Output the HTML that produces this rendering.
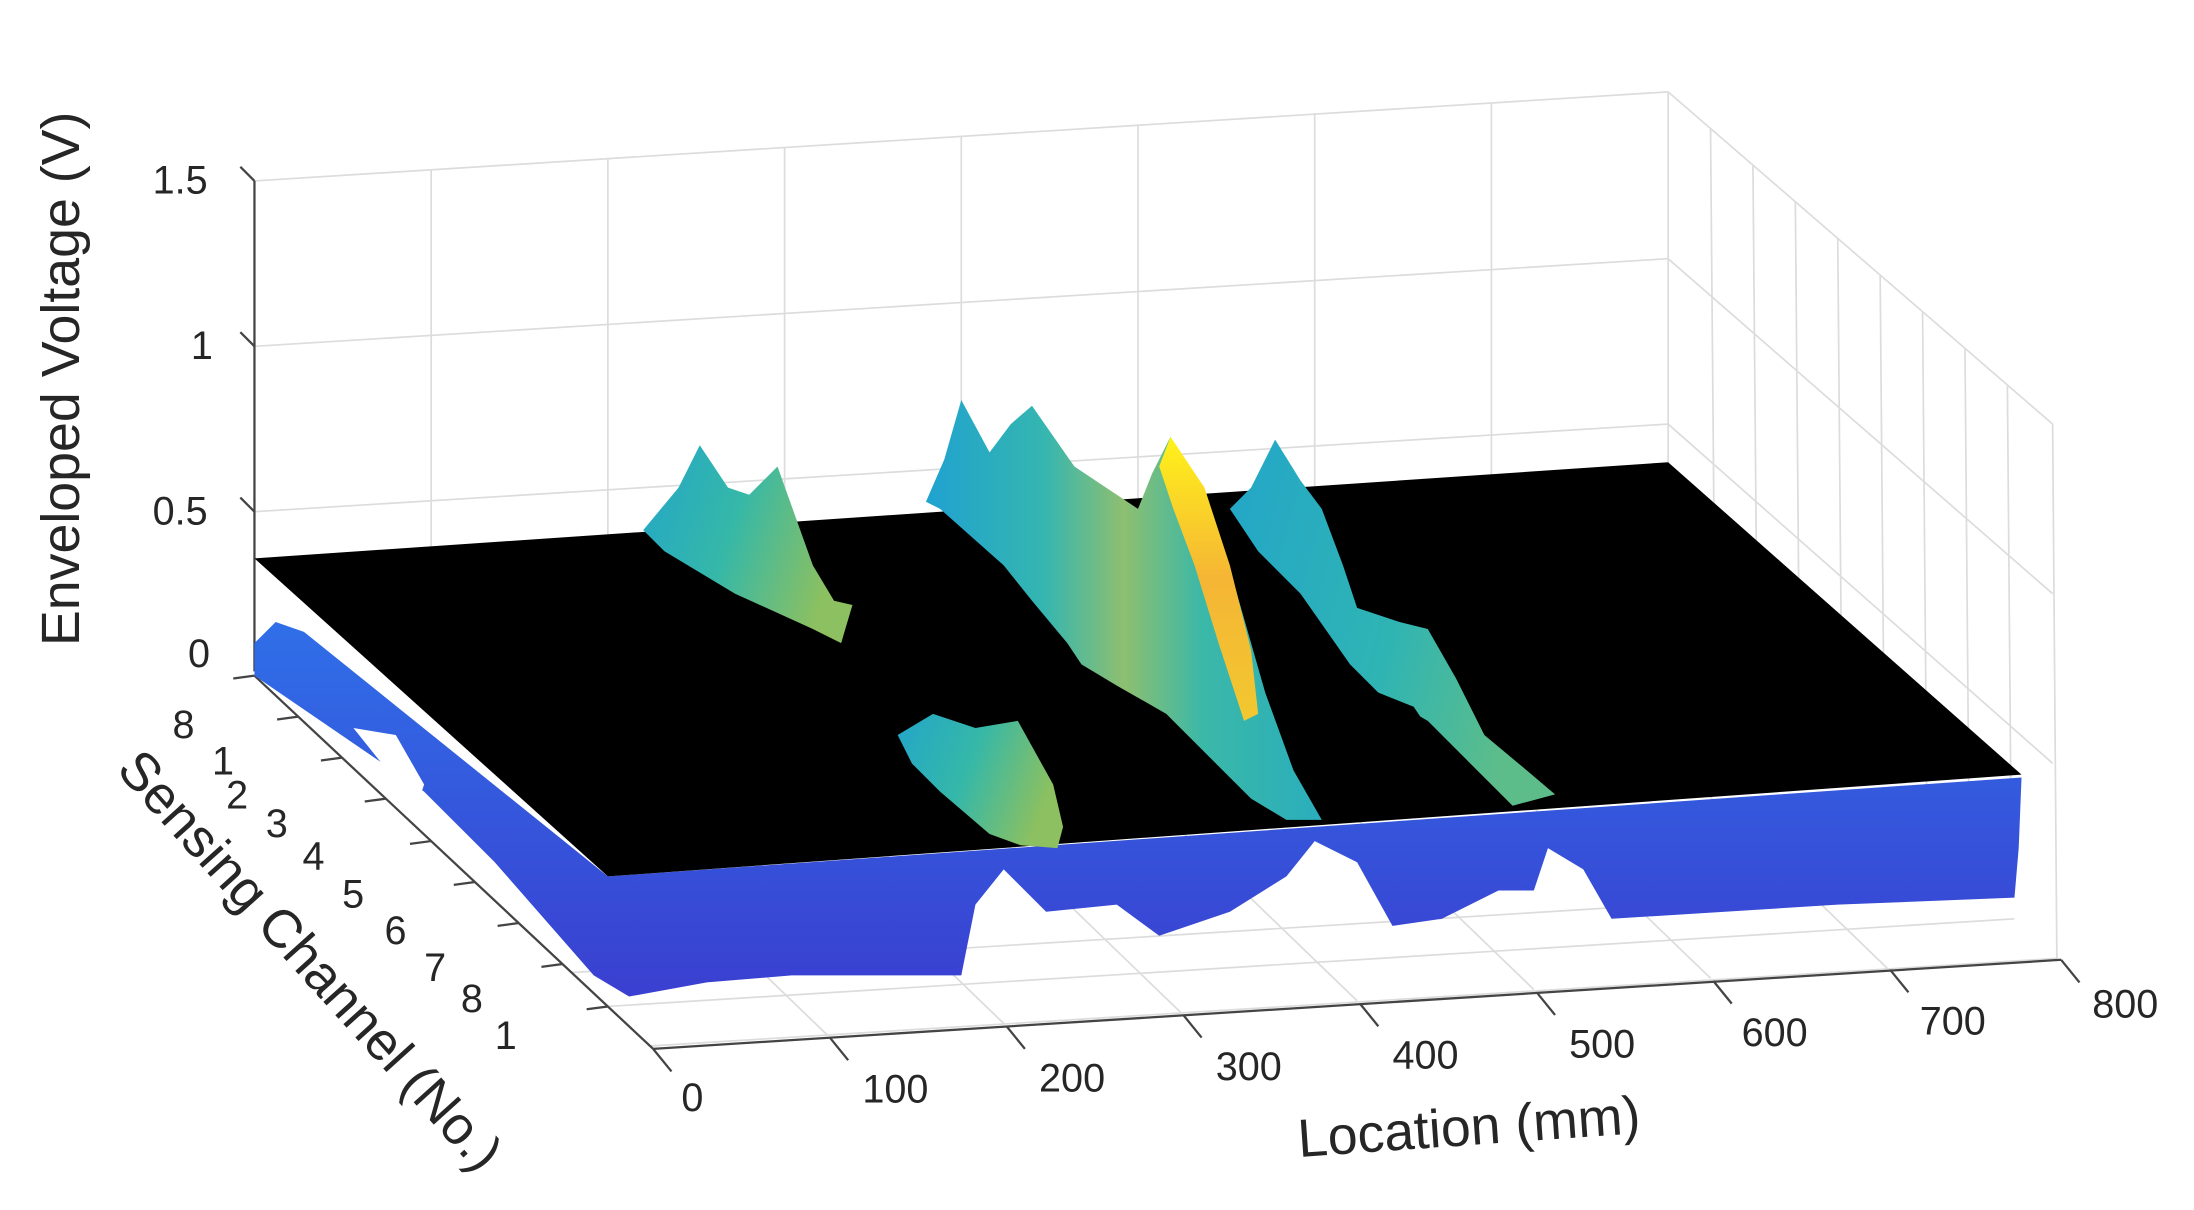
<!DOCTYPE html>
<html><head><meta charset="utf-8"><style>
html,body{margin:0;padding:0;background:#fff;width:2194px;height:1210px;overflow:hidden}
svg{display:block}
text{font-family:"Liberation Sans",Arial,sans-serif;fill:#262626}
</style></head><body>
<svg width="2194" height="1210" viewBox="0 0 1552 856" preserveAspectRatio="none" xmlns="http://www.w3.org/2000/svg">
<defs>
<linearGradient id="g1" x1="0" y1="0" x2="1" y2="0.3">
<stop offset="0" stop-color="#23a6c8"/><stop offset="0.5" stop-color="#35b8a8"/><stop offset="1" stop-color="#8cc060"/></linearGradient>
<linearGradient id="g4" x1="0" y1="0" x2="1" y2="0.3">
<stop offset="0" stop-color="#23a6c8"/><stop offset="0.6" stop-color="#2fb4b4"/><stop offset="1" stop-color="#5cbd8a"/></linearGradient>
<linearGradient id="g3" x1="0" y1="0" x2="1" y2="0">
<stop offset="0" stop-color="#1fa2d0"/><stop offset="0.3" stop-color="#35b6b0"/><stop offset="0.5" stop-color="#8ebf70"/><stop offset="0.7" stop-color="#3ab8a8"/><stop offset="1" stop-color="#2aaebc"/></linearGradient>
<linearGradient id="gy" x1="0" y1="0" x2="0" y2="1">
<stop offset="0" stop-color="#fff21a"/><stop offset="0.5" stop-color="#f5b535"/><stop offset="1" stop-color="#f2c830"/></linearGradient>
<linearGradient id="gb" x1="0" y1="0" x2="0" y2="1">
<stop offset="0" stop-color="#2f6fe8"/><stop offset="1" stop-color="#3a3fd0"/></linearGradient>
</defs>
<g stroke="#dcdcdc" stroke-width="1.2" fill="none">
<line x1="180" y1="128" x2="1180" y2="65"/>
<line x1="180" y1="245" x2="1180" y2="183"/>
<line x1="180" y1="362" x2="1180" y2="300"/>
<line x1="305" y1="120" x2="305" y2="462"/>
<line x1="430" y1="112" x2="430" y2="454"/>
<line x1="555" y1="104" x2="555" y2="446"/>
<line x1="680" y1="96" x2="680" y2="438"/>
<line x1="805" y1="88" x2="805" y2="430"/>
<line x1="930" y1="80" x2="930" y2="422"/>
<line x1="1055" y1="73" x2="1055" y2="414"/>
<line x1="1180" y1="65" x2="1180" y2="406"/>
<line x1="1180" y1="65" x2="1452" y2="300"/>
<line x1="1180" y1="183" x2="1452" y2="420"/>
<line x1="1180" y1="300" x2="1452" y2="540"/>
<line x1="1452" y1="300" x2="1455" y2="680"/>
<line x1="1210" y1="91" x2="1213" y2="435"/>
<line x1="1240" y1="117" x2="1243" y2="462"/>
<line x1="1270" y1="143" x2="1273" y2="490"/>
<line x1="1300" y1="169" x2="1303" y2="518"/>
<line x1="1330" y1="195" x2="1333" y2="545"/>
<line x1="1360" y1="221" x2="1363" y2="572"/>
<line x1="1390" y1="247" x2="1393" y2="600"/>
<line x1="1420" y1="273" x2="1423" y2="627"/>
<line x1="460" y1="740" x2="1455" y2="678"/>
<line x1="430" y1="712" x2="1425" y2="650"/>
<line x1="405" y1="688" x2="1400" y2="626"/>
<line x1="305" y1="462" x2="585" y2="732"/>
<line x1="430" y1="454" x2="710" y2="724"/>
<line x1="555" y1="446" x2="835" y2="716"/>
<line x1="680" y1="438" x2="960" y2="708"/>
<line x1="805" y1="430" x2="1085" y2="700"/>
<line x1="930" y1="422" x2="1210" y2="692"/>
<line x1="1055" y1="414" x2="1335" y2="685"/>
</g>
<g stroke="#444" stroke-width="1.6" fill="none">
<line x1="180" y1="128" x2="180" y2="475"/>
<line x1="180" y1="478" x2="462" y2="742"/>
<line x1="462" y1="742" x2="1458" y2="679"/>
<line x1="180" y1="128" x2="170" y2="118"/>
<line x1="180" y1="245" x2="170" y2="235"/>
<line x1="180" y1="362" x2="170" y2="352"/>
<line x1="462" y1="742" x2="475" y2="758"/>
<line x1="587" y1="734" x2="600" y2="750"/>
<line x1="712" y1="726" x2="725" y2="742"/>
<line x1="837" y1="718" x2="850" y2="734"/>
<line x1="962" y1="710" x2="975" y2="726"/>
<line x1="1087" y1="702" x2="1100" y2="718"/>
<line x1="1212" y1="694" x2="1225" y2="710"/>
<line x1="1337" y1="686" x2="1350" y2="702"/>
<line x1="1458" y1="679" x2="1471" y2="695"/>
<line x1="180" y1="478" x2="165" y2="480"/>
<line x1="211" y1="507" x2="196" y2="509"/>
<line x1="242" y1="536" x2="227" y2="538"/>
<line x1="273" y1="565" x2="258" y2="567"/>
<line x1="305" y1="595" x2="290" y2="597"/>
<line x1="336" y1="624" x2="321" y2="626"/>
<line x1="367" y1="653" x2="352" y2="655"/>
<line x1="398" y1="682" x2="383" y2="684"/>
<line x1="430" y1="712" x2="415" y2="714"/>
</g>
<polygon fill="url(#gb)" points="180,455 195,440 215,447 430,620 1430,550 1428,600 1425,635 1300,640 1140,650 1120,615 1095,600 1085,630 1060,630 1020,650 985,655 960,610 930,595 910,620 870,645 820,662 790,640 740,645 710,615 690,640 680,690 620,690 560,690 500,695 445,705 420,690 350,610 300,560 180,478"/>
<polygon fill="#fff" points="250,515 280,520 300,555 295,570 270,540"/>
<polygon fill="#000" points="180,395 1180,327 1430,548 430,620"/>
<polygon fill="url(#g1)" points="455,375 480,345 495,315 515,345 530,350 550,330 575,400 590,425 603,428 595,455 575,445 520,420 470,390"/>
<polygon fill="url(#g3)" points="655,355 668,325 680,283 700,320 715,300 730,287 760,330 790,350 805,360 815,335 828,309 855,360 875,420 895,490 915,545 935,580 910,580 885,565 860,540 825,505 790,485 765,470 755,455 730,425 710,400 665,360"/>
<polygon fill="url(#gy)" points="828,309 852,345 870,400 885,460 890,505 880,510 862,455 845,400 830,360 820,330"/>
<polygon fill="url(#g4)" points="885,345 902,311 920,340 935,360 950,400 960,430 990,440 1010,445 1030,480 1050,520 1080,545 1100,562 1070,570 1040,540 1010,510 975,490 955,470 920,420 890,390 870,360"/>
<polygon fill="#000" points="975,490 1000,500 1020,530 1005,530 985,510"/>
<polygon fill="url(#g1)" points="635,520 660,505 690,515 720,510 745,555 752,585 748,600 722,598 700,590 665,560 645,540"/>
<g font-size="28">
<text x="108" y="137">1.5</text>
<text x="135" y="254">1</text>
<text x="108" y="371">0.5</text>
<text x="133" y="472">0</text>
<text x="122" y="522">8</text>
<text x="150" y="548">1</text>
<text x="160" y="572">2</text>
<text x="188" y="592">3</text>
<text x="214" y="615">4</text>
<text x="242" y="642">5</text>
<text x="272" y="668">6</text>
<text x="300" y="694">7</text>
<text x="326" y="716">8</text>
<text x="350" y="742">1</text>
<text x="482" y="786">0</text>
<text x="610" y="780">100</text>
<text x="735" y="772">200</text>
<text x="860" y="764">300</text>
<text x="985" y="756">400</text>
<text x="1110" y="748">500</text>
<text x="1232" y="740">600</text>
<text x="1358" y="732">700</text>
<text x="1480" y="720">800</text>
</g>
<text font-size="38" transform="translate(56,268) rotate(-90)" text-anchor="middle">Enveloped  Voltage  (V)</text>
<text font-size="38" transform="translate(210,688) rotate(48)" text-anchor="middle">Sensing Channel (No.)</text>
<text font-size="38" transform="translate(1040,810) rotate(-4)" text-anchor="middle">Location (mm)</text>
</svg>
</body></html>
